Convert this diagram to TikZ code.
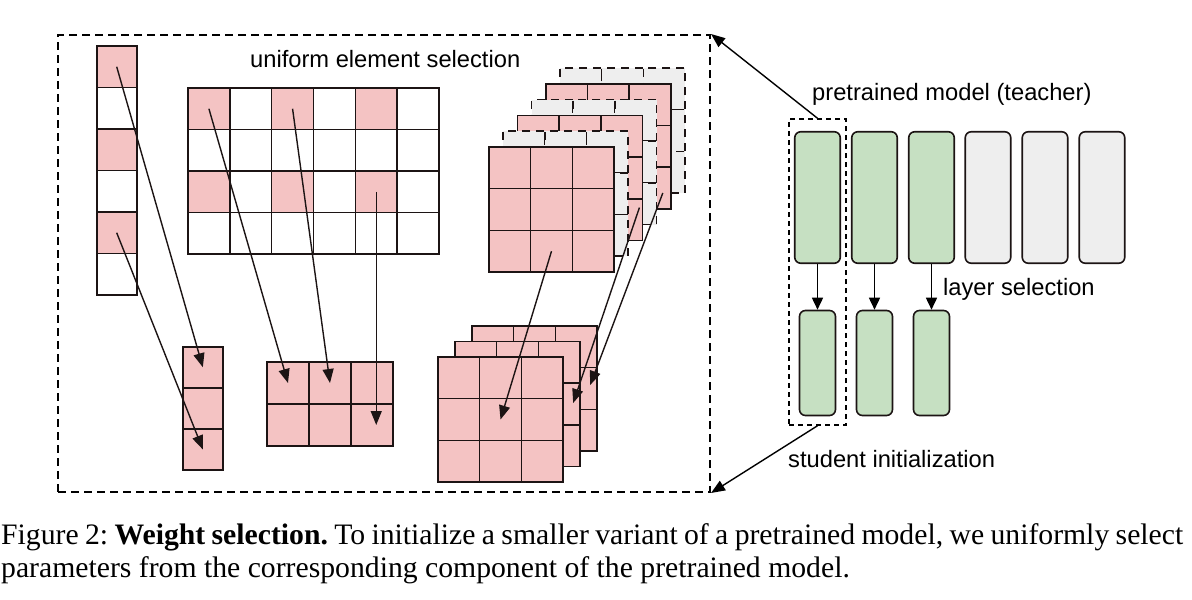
\documentclass[tikz,border=0pt]{standalone}
\usepackage{fontspec}
\setmainfont{Liberation Serif}
\setsansfont{Liberation Sans}
\usetikzlibrary{arrows.meta,calc}
\definecolor{pinkc}{RGB}{244,195,195}
\definecolor{greenc}{RGB}{198,224,194}
\definecolor{grayc}{RGB}{238,238,238}
\definecolor{linec}{RGB}{28,20,20}
\frenchspacing
\begin{document}
\begin{tikzpicture}[x=1pt,y=-1pt,
  gcell/.style={draw=linec, line width=1.6pt, inner sep=0pt, outer sep=0pt, anchor=north west},
  pk/.style={fill=pinkc},
  wh/.style={fill=white},
  ghost/.style={fill=grayc, dash pattern=on 8pt off 6pt},
  sel/.style={draw=linec, line width=1.4pt, -{Triangle[length=14pt,width=11pt]}},
  tbox/.style={draw=linec, line width=1.6pt, rounded corners=6pt, inner sep=0pt},
  lab/.style={font=\sffamily\fontsize{23.7}{28}\selectfont, inner sep=0pt, anchor=base west},
  captxt/.style={font=\fontsize{29.7}{33}\selectfont, inner sep=0pt, anchor=base west}]
\useasboundingbox (0,0) rectangle (1192,600);

% outer dashed frame
\node[draw=black, line width=2pt, dash pattern=on 8pt off 5pt, minimum width=652pt, minimum height=457pt, inner sep=0pt] (BB) at (384,263.5) {};

% left column
\foreach \i/\f in {0/pk,1/wh,2/pk,3/wh,4/pk,5/wh}
  \node[gcell,\f,minimum width=40pt,minimum height=41.5pt] (L\i) at (96.7,{46+41.5*\i}) {};

% large grid
\foreach \r in {0,1,2,3}
  \foreach \c in {0,...,5} {
    \pgfmathtruncatemacro\p{(mod(\r,2)==0)&&(mod(\c,2)==0)}
    \ifnum\p=1 \def\f{pk}\else\def\f{wh}\fi
    \node[gcell,\f,minimum width=41.83pt,minimum height=41.5pt] (G-\r-\c) at ({188+41.83*\c},{88+41.5*\r}) {};
  }

% small column
\foreach \i in {0,1,2}
  \node[gcell,pk,minimum width=40.3pt,minimum height=41.1pt] (S\i) at (182.7,{346.7+41.1*\i}) {};

% small grid
\foreach \r in {0,1}
  \foreach \c in {0,1,2}
    \node[gcell,pk,minimum width=42pt,minimum height=42pt] (SG-\r-\c) at ({267+42*\c},{362+42*\r}) {};

% top stack
\foreach \k in {5,4,...,0} {
  \pgfmathsetmacro\ox{489+14.2*\k}
  \pgfmathsetmacro\oy{147-15.8*\k}
  \pgfmathtruncatemacro\odd{mod(\k,2)}
  \ifnum\odd=1 \def\f{ghost}\else\def\f{pk}\fi
  \foreach \r in {0,1,2}
    \foreach \c in {0,1,2}
      \node[gcell,\f,minimum width=41.67pt,minimum height=41.67pt] (T-\k-\r-\c) at ({\ox+41.67*\c},{\oy+41.67*\r}) {};
}

% bottom stack
\foreach \k in {2,1,0} {
  \pgfmathsetmacro\ox{438+17*\k}
  \pgfmathsetmacro\oy{357-15.5*\k}
  \foreach \r in {0,1,2}
    \foreach \c in {0,1,2}
      \node[gcell,pk,minimum width=41.67pt,minimum height=41.67pt] (B-\k-\r-\c) at ({\ox+41.67*\c},{\oy+41.67*\r}) {};
}

% selection arrows
\draw[sel] (L0.center) -- (S0.center);
\draw[sel] (L4.center) -- (S2.center);
\draw[sel] (G-0-0.center) -- (SG-0-0.center);
\draw[sel] (G-0-2.center) -- (SG-0-1.center);
\draw[sel] (G-2-4.center) -- (G-2-4.center |- SG-1-2.center);
\draw[sel] (T-0-2-1.center) -- (B-0-1-1.center);
\coordinate (a2) at ($(T-2-2-2.east)+(-3,-12)$);
\coordinate (b2) at ($(B-1-1-2.center)+(14,-1)$);
\coordinate (a4) at ($(T-4-2-2.east)+(-8,5)$);
\coordinate (b4) at ($(B-2-1-2.center)+(14,-3.5)$);
\draw[sel] (a2) -- (b2);
\draw[sel] (a4) -- (b4);

% teacher layers
\foreach \i/\x/\f in {1/817.5/greenc,2/874.5/greenc,3/931.5/greenc,4/988/grayc,5/1045/grayc,6/1102/grayc}
  \node[tbox,fill=\f,minimum width=45.5pt,minimum height=131.5pt] (P\i) at (\x,197.5) {};
% student layers
\foreach \i/\x in {1/817.5,2/874.5,3/931.5}
  \node[tbox,fill=greenc,minimum width=36pt,minimum height=105pt] (Q\i) at (\x,363) {};
\foreach \i in {1,2,3}
  \draw[line width=1.6pt, draw=black, -{Triangle[length=12pt,width=11pt]}] (P\i.south) -- (Q\i.north);

% dashed selection box
\node[draw=black, line width=1.5pt, dash pattern=on 5pt off 4pt, minimum width=57pt, minimum height=306pt, inner sep=0pt] (D) at (817.5,272) {};
\draw[line width=1.4pt, -{Triangle[length=14pt,width=11pt]}] (D.north) -- (BB.north east);
\draw[line width=1.4pt, -{Triangle[length=14pt,width=11pt]}] (D.south) -- (BB.south east);

% labels
\node[lab] (t1) at (250,67) {uniform element selection};
\node[lab] (t2) at (812,100) {pretrained model (teacher)};
\node[lab] (t3) at (943,295) {layer selection};
\node[lab] (t4) at (788,467) {student initialization};

% caption
\node[captxt] (c1) at (1,544) {\hbox to 1182pt{Figure 2: \textbf{Weight selection.} To initialize a smaller variant of a pretrained model, we uniformly select}};
\node[captxt] (c2) at (1,577) {parameters from the corresponding component of the pretrained model.};
\end{tikzpicture}
\end{document}
